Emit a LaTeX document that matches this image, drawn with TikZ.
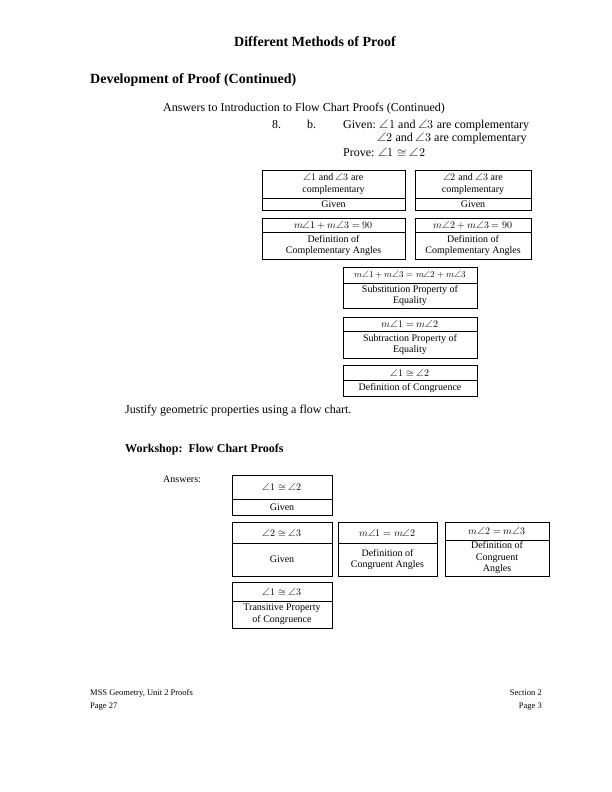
\documentclass[tikz,border=0pt]{standalone}
\usepackage{amsmath}
\usepackage{fontspec}
\usepackage{unicode-math}
\setmainfont{Liberation Serif}
\setmathfont{Latin Modern Math}
\usetikzlibrary{positioning}
\tikzset{
    statement-box/.style = {draw, thin, rectangle, align=center, inner sep=1pt, outer sep=0pt, font=\fontsize{10}{11.5}\selectfont},
    reason-box/.style = {statement-box},
    body-text/.style = {inner sep=0pt, anchor=base west, font=\fontsize{12}{14}\selectfont},
    heading-text/.style = {inner sep=0pt, anchor=base west, font=\fontsize{14}{16}\selectfont\bfseries},
    footer-text/.style = {inner sep=0pt, anchor=base west, font=\fontsize{8.5}{10}\selectfont},
}

\begin{document}
\begin{tikzpicture}[x=1pt, y=-1pt]
\useasboundingbox (0,0) rectangle (612,792);

% page header
\node[heading-text, anchor=base] (title) at (315,47) {Different Methods of Proof};
\node[heading-text] (section) at (90,84) {Development of Proof (Continued)};
\node[body-text] (answers) at (163,111) {Answers to Introduction to Flow Chart Proofs (Continued)};
\node[body-text] (num) at (272,128) {8.};
\node[body-text] (part) at (307,128) {b.};
\node[body-text] (given) at (343,128) {Given: $\angle 1$ and $\angle 3$ are complementary};
\node[body-text] (given2) at (377,141) {$\angle 2$ and $\angle 3$ are complementary};
\node[body-text] (prove) at (343,156) {Prove: $\angle 1 \cong \angle 2$};

% flow chart for 8 b
\node[statement-box, anchor=north, minimum width=143pt, minimum height=28pt] (A-s) at (333.5,170) {$\angle 1$ and $\angle 3$ are\\complementary};
\node[reason-box, below=0pt of A-s, minimum width=143pt, minimum height=12pt] (A-r) {Given};
\node[statement-box, anchor=north, minimum width=116pt, minimum height=28pt] (B-s) at (473,170) {$\angle 2$ and $\angle 3$ are\\complementary};
\node[reason-box, below=0pt of B-s, minimum width=116pt, minimum height=12pt] (B-r) {Given};

\node[statement-box, anchor=north, minimum width=143pt, minimum height=14pt] (C-s) at (333.5,218) {$m\angle 1 + m\angle 3 = 90$};
\node[reason-box, below=0pt of C-s, minimum width=143pt, minimum height=27pt] (C-r) {Definition of\\Complementary Angles};
\node[statement-box, anchor=north, minimum width=116pt, minimum height=14pt] (D-s) at (473,218) {$m\angle 2 + m\angle 3 = 90$};
\node[reason-box, below=0pt of D-s, minimum width=116pt, minimum height=27pt] (D-r) {Definition of\\Complementary Angles};

\node[statement-box, anchor=north, minimum width=134pt, minimum height=16pt, font=\fontsize{9}{11}\selectfont] (E-s) at (410,267) {$m\angle 1 + m\angle 3 = m\angle 2 + m\angle 3$};
\node[reason-box, below=0pt of E-s, minimum width=134pt, minimum height=25pt] (E-r) {Substitution Property of\\Equality};

\node[statement-box, anchor=north, minimum width=134pt, minimum height=14pt] (F-s) at (410,317) {$m\angle 1 = m\angle 2$};
\node[reason-box, below=0pt of F-s, minimum width=134pt, minimum height=27pt] (F-r) {Subtraction Property of\\Equality};

\node[statement-box, anchor=north, minimum width=134pt, minimum height=15pt] (G-s) at (410,365) {$\angle 1 \cong \angle 2$};
\node[reason-box, below=0pt of G-s, minimum width=134pt, minimum height=16pt] (G-r) {Definition of Congruence};

\node[body-text] (justify) at (125,413) {Justify geometric properties using a flow chart.};
\node[body-text, font=\fontsize{12}{14}\selectfont\bfseries] (workshop) at (125,452) {Workshop:\enspace Flow Chart Proofs};
\node[body-text, font=\fontsize{10}{12}\selectfont] (answers2) at (163,482) {Answers:};

% workshop flow chart
\node[statement-box, anchor=north, minimum width=100pt, minimum height=24pt] (H-s) at (282,475) {$\angle 1 \cong \angle 2$};
\node[reason-box, below=0pt of H-s, minimum width=100pt, minimum height=16pt] (H-r) {Given};

\node[statement-box, anchor=north, minimum width=100pt, minimum height=21pt] (I-s) at (282,522) {$\angle 2 \cong \angle 3$};
\node[reason-box, below=0pt of I-s, minimum width=100pt, minimum height=33pt] (I-r) {Given};
\node[statement-box, anchor=north, minimum width=99pt, minimum height=21pt] (J-s) at (387.5,522) {$m\angle 1 = m\angle 2$};
\node[reason-box, below=0pt of J-s, minimum width=99pt, minimum height=33pt] (J-r) {Definition of\\Congruent Angles};
\node[statement-box, anchor=north, minimum width=104pt, minimum height=18pt] (K-s) at (497,522) {$m\angle 2 = m\angle 3$};
\node[reason-box, below=0pt of K-s, minimum width=104pt, minimum height=36pt] (K-r) {Definition of\\Congruent\\Angles};

\node[statement-box, anchor=north, minimum width=100pt, minimum height=19pt] (L-s) at (282,582) {$\angle 1 \cong \angle 3$};
\node[reason-box, below=0pt of L-s, minimum width=100pt, minimum height=27pt] (L-r) {Transitive Property\\of Congruence};

% page footer
\node[footer-text] (foot-l1) at (90,695) {MSS Geometry, Unit 2 Proofs};
\node[footer-text] (foot-l2) at (90,708) {Page 27};
\node[footer-text, anchor=base east] (foot-r1) at (542,695) {Section 2};
\node[footer-text, anchor=base east] (foot-r2) at (542,708) {Page 3};
\end{tikzpicture}
\end{document}
